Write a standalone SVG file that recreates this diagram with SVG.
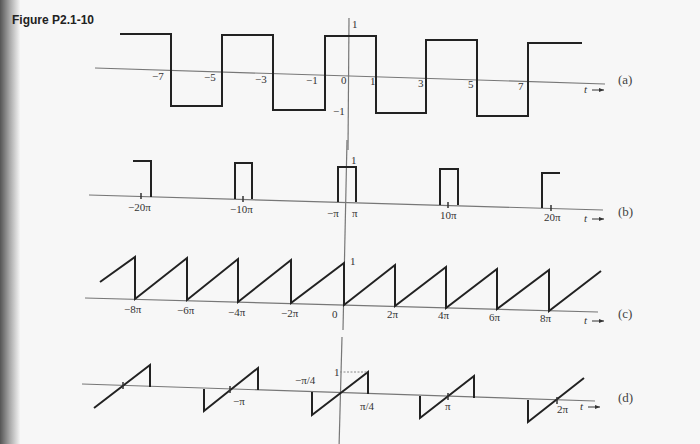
<svg xmlns="http://www.w3.org/2000/svg" width="700" height="444" viewBox="0 0 700 444">
<defs>
<linearGradient id="edge" x1="0" x2="1" y1="0" y2="0"><stop offset="0" stop-color="#555"/><stop offset="0.5" stop-color="#aaa"/><stop offset="1" stop-color="#f4f4f4"/></linearGradient>
<marker id="ar" markerWidth="6" markerHeight="6" refX="5" refY="3" orient="auto"><path d="M0,1 L5,3 L0,5 z" fill="#333"/></marker>
</defs>
<style>
.ax{stroke:#777;stroke-width:1.2;fill:none}
.w{stroke:#222;stroke-width:2;fill:none}
.t{font-family:"Liberation Serif",serif;font-size:11px;fill:#333}
.lb{font-family:"Liberation Serif",serif;font-size:13px;fill:#444}
</style>
<rect width="700" height="444" fill="#f7f7f7"/>
<rect width="20" height="444" fill="url(#edge)"/>
<text x="12" y="24" font-family="Liberation Sans,sans-serif" font-weight="bold" font-size="12" fill="#222">Figure P2.1-10</text>

<g id="plot-a">
<line class="ax" x1="95" y1="68" x2="605" y2="84"/>
<line class="ax" x1="349" y1="18" x2="348" y2="150"/>
<path class="w" d="M120,34 H171 V106 H222 V35 H273 V110 H325 V36 H376 V113 H426 V40 H477 V116 H528 V43 H582"/>
<g class="t"><text x="152" y="80">−7</text><text x="204" y="81">−5</text><text x="255" y="83">−3</text><text x="306" y="84">−1</text><text x="341" y="84">0</text><text x="370" y="85">1</text><text x="418" y="87">3</text><text x="468" y="88">5</text><text x="518" y="90">7</text><text x="333" y="115">−1</text><text x="352" y="28">1</text><text x="584" y="93" font-style="italic">t</text></g>
<line x1="592" y1="90" x2="604" y2="90" stroke="#333" marker-end="url(#ar)"/>
<text class="lb" x="618" y="84">(a)</text>
</g>

<g id="plot-b">
<line class="ax" x1="89" y1="195" x2="603" y2="210"/>
<line class="ax" x1="347" y1="140" x2="345" y2="235"/>
<path class="w" d="M133,161 H151 V197"/>
<path class="w" d="M235,199 V163 H252 V199"/>
<path class="w" d="M338,202 V167 H356 V202"/>
<path class="w" d="M440,205 V169 H458 V205"/>
<path class="w" d="M542,208 V173 H560"/>
<g stroke="#333" stroke-width="1.5"><line x1="141" y1="193" x2="141" y2="199"/><line x1="243" y1="196" x2="243" y2="202"/><line x1="448" y1="202" x2="448" y2="208"/><line x1="551" y1="205" x2="551" y2="211"/></g>
<g class="t"><text x="128" y="211">−20π</text><text x="230" y="213">−10π</text><text x="327" y="217">−π</text><text x="352" y="217">π</text><text x="440" y="219">10π</text><text x="544" y="221">20π</text><text x="351" y="164">1</text><text x="584" y="222" font-style="italic">t</text></g>
<line x1="592" y1="219" x2="604" y2="219" stroke="#333" marker-end="url(#ar)"/>
<text class="lb" x="618" y="216">(b)</text>
</g>

<g id="plot-c">
<line class="ax" x1="85" y1="298" x2="598" y2="312"/>
<line class="ax" x1="345" y1="235" x2="343" y2="330"/>
<path class="w" d="M100,282 L135,257 V299 L187,258 V300 L238,259 V302 L291,260 V303 L344,263 V305 L395,265 V306 L446,267 V308 L497,269 V309 L549,270 V311 L601,271"/>
<g class="t"><text x="124" y="313">−8π</text><text x="177" y="314">−6π</text><text x="228" y="316">−4π</text><text x="281" y="317">−2π</text><text x="332" y="318">0</text><text x="387" y="318">2π</text><text x="438" y="319">4π</text><text x="489" y="321">6π</text><text x="540" y="322">8π</text><text x="350" y="265">1</text><text x="584" y="324" font-style="italic">t</text></g>
<line x1="592" y1="321" x2="604" y2="321" stroke="#333" marker-end="url(#ar)"/>
<text class="lb" x="618" y="318">(c)</text>
</g>

<g id="plot-d">
<line class="ax" x1="82" y1="384" x2="595" y2="401"/>
<line class="ax" x1="342" y1="337" x2="339" y2="448"/>
<path class="w" d="M94,408 L150,365 V387"/>
<path class="w" d="M204,389 V411 L258,368 V390"/>
<path class="w" d="M312,392 V415 L368,372 V394"/>
<path class="w" d="M420,396 V418 L474,376 V398"/>
<path class="w" d="M528,400 V422 L584,378"/>
<g stroke="#333" stroke-width="1.5"><line x1="123" y1="382" x2="123" y2="389"/><line x1="230" y1="386" x2="230" y2="393"/><line x1="448" y1="393" x2="448" y2="400"/><line x1="557" y1="397" x2="557" y2="404"/></g>
<line x1="340" y1="372" x2="367" y2="372" stroke="#888" stroke-dasharray="2,1.5"/>
<g class="t"><text x="334" y="376">1</text><text x="233" y="405">−π</text><text x="295" y="384">−π/4</text><text x="360" y="410">π/4</text><text x="445" y="410">π</text><text x="557" y="413">2π</text><text x="580" y="410" font-style="italic">t</text></g>
<line x1="588" y1="407" x2="600" y2="407" stroke="#333" marker-end="url(#ar)"/>
<text class="lb" x="618" y="402">(d)</text>
</g>
</svg>
